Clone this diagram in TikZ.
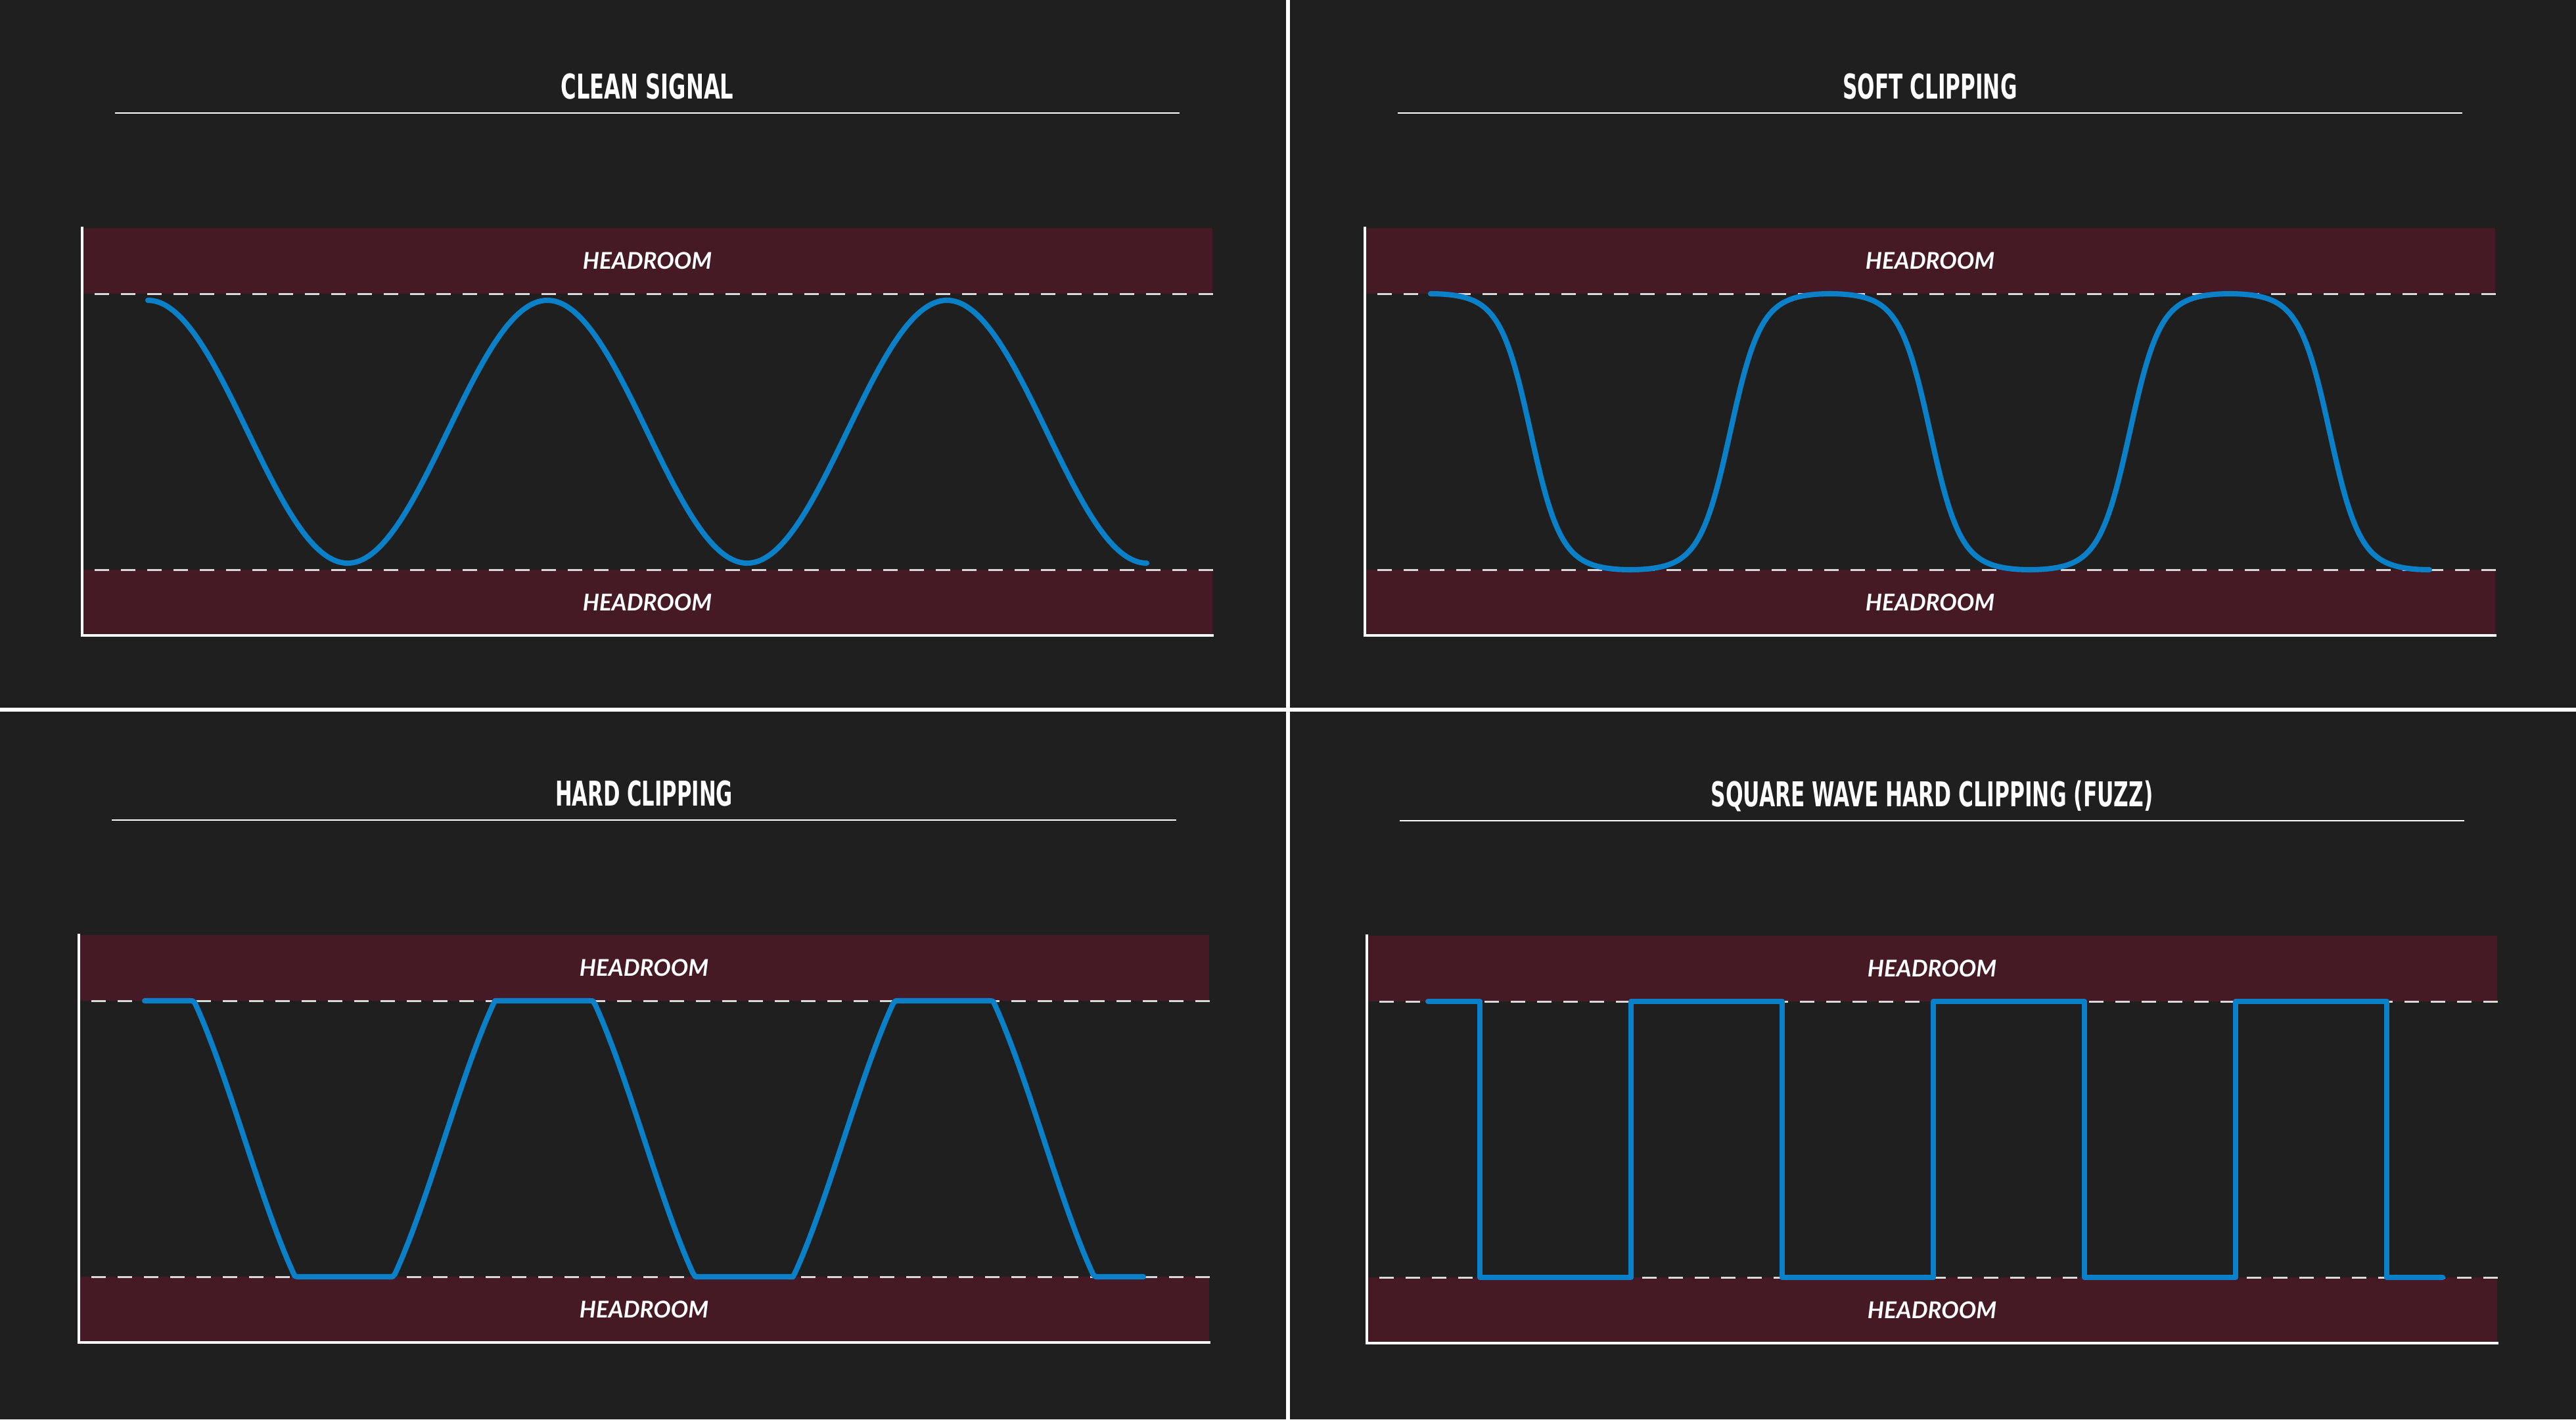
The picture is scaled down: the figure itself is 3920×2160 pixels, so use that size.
\documentclass[tikz,border=0pt]{standalone}
\usepackage{fontspec}
\usepackage{graphicx}
\setmainfont{Lato}
\newfontfamily\titlefont{DejaVu Sans}
\definecolor{bg}{HTML}{1F1F1F}
\definecolor{band}{HTML}{451A24}
\definecolor{wave}{HTML}{0A80C8}
\definecolor{dashc}{HTML}{D9D9D9}
\tikzset{
 ttl/.style={text=white, font=\titlefont\bfseries\fontsize{14.8}{16}\selectfont, inner sep=0pt, anchor=base},
 hr/.style={text=white, font=\bfseries\itshape\fontsize{10}{12}\selectfont, inner sep=0pt, anchor=base},
 axisln/.style={draw=white, line width=1.1pt},
 dashln/.style={draw=dashc, line width=0.85pt, dash pattern=on 6.26pt off 5.12pt},
 wavest/.style={draw=wave, line width=2.3pt, line cap=round, line join=round},
 uline/.style={draw=white, line width=0.7pt},
 divider/.style={draw=white, line width=1.7pt}
}
% #1 dx, #2 dy, #3 title width (pt), #4 title, #5 name prefix
\newcommand\drawpanel[5]{%
\begin{scope}[shift={(#1,#2)}]
 \fill[band] (127,347) rectangle (1845,447);
 \fill[band] (127,867) rectangle (1845,967);
 \draw[dashln] (144,447) -- (1846,447);
 \draw[dashln] (144,867) -- (1846,867);
 \draw[axisln] (125,345) -- (125,967) -- (1847,967);
 \node[ttl] (#5title) at (985,150) {\resizebox{#3}{\height}{#4}};
 \draw[uline] (175,172) -- (1795,172);
 \node[hr] (#5hrtop) at (985,409) {HEADROOM};
 \node[hr] (#5hrbot) at (985,929) {HEADROOM};
\end{scope}}
\begin{document}
\begin{tikzpicture}[x=0.1mm,y=-0.1mm]
\useasboundingbox (0,0) rectangle (3920,2160);
\fill[bg] (0,0) rectangle (3920,2160);
\drawpanel{0}{0}{74.8pt}{CLEAN SIGNAL}{a}
\drawpanel{1952}{0}{75.4pt}{SOFT CLIPPING}{b}
\drawpanel{-5}{1076}{76.8pt}{HARD CLIPPING}{c}
\drawpanel{1955}{1077}{191.5pt}{SQUARE WAVE HARD CLIPPING (FUZZ)}{d}
% clean
\draw[wavest] plot[domain=225:1745, samples=240, smooth] (\x, {657-200*cos(0.5921053*(\x-225))});
% soft
\begin{scope}[shift={(1952,0)}]
\draw[wavest] plot[domain=225:1745, samples=300, smooth] (\x, {657-210*tanh(2.0*cos(0.5921053*(\x-225)))/tanh(2.0)});
\end{scope}
% hard
\begin{scope}[shift={(-5,1076)}]
\draw[wavest] plot[domain=225:1745, samples=400] (\x, {657-max(-210,min(210,294*cos(0.5921053*(\x-225))))});
\end{scope}
% square
\begin{scope}[shift={(1955,1077)}]
\draw[wavest] (218,447) -- (297,447) -- (297,867) -- (527,867) -- (527,447) -- (757,447) -- (757,867) -- (987,867) -- (987,447) -- (1217,447) -- (1217,867) -- (1447,867) -- (1447,447) -- (1677,447) -- (1677,867) -- (1762,867);
\end{scope}
% dividers
\coordinate (vtop) at (1960,0);
\coordinate (vbot) at (1960,2160);
\coordinate (hl) at (0,1080);
\coordinate (hr) at (3920,1080);
\draw[divider] (vtop) -- (vbot);
\draw[divider] (hl) -- (hr);
\end{tikzpicture}
\end{document}
